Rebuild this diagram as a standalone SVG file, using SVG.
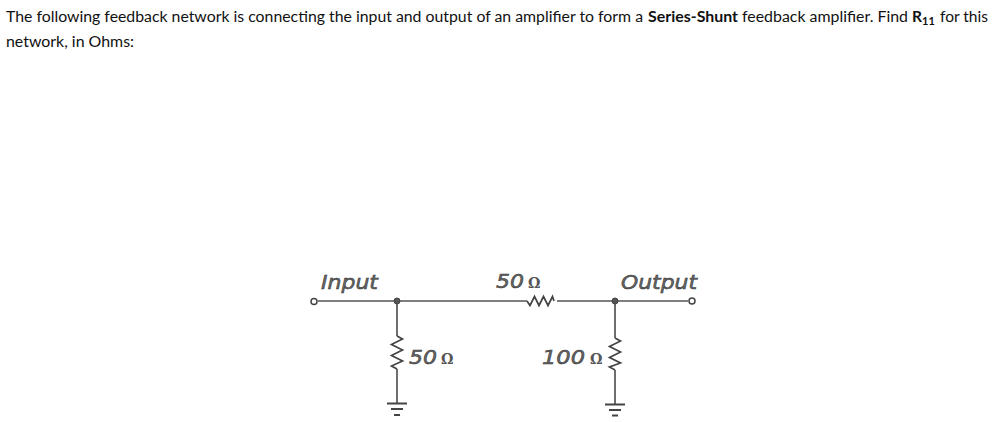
<svg xmlns="http://www.w3.org/2000/svg" width="996" height="422" viewBox="0 0 996 422">
<style>
.q{font-family:Lato,"Open Sans",sans-serif;font-size:15.6px;fill:#111}
.b{font-weight:700}
.h{font-family:"DejaVu Sans",sans-serif;font-style:italic;font-size:20px;fill:#666;stroke:#333;stroke-width:.5}
.o{font-family:"DejaVu Serif",serif;font-size:14px;font-weight:700;fill:#555}
.w{fill:none;stroke:#555;stroke-width:1.7}
.g{fill:none;stroke:#444;stroke-width:2.200}
.r{fill:none;stroke:#444;stroke-width:1.700}
.d{fill:#555;stroke:#444}
.t{fill:#fff;stroke:#444;stroke-width:1.500}
</style>
<rect width="996" height="422" fill="#fff"/>
<g id="question">
<text class="q" x="6" y="22" textLength="637" lengthAdjust="spacingAndGlyphs">The following feedback network is connecting the input and output of an amplifier to form a</text>
<text class="q b" x="648" y="22" textLength="90" lengthAdjust="spacingAndGlyphs">Series-Shunt</text>
<text class="q" x="742" y="22" textLength="166" lengthAdjust="spacingAndGlyphs">feedback amplifier. Find</text>
<text class="q b" x="912" y="22">R<tspan font-size="11" dy="3">11</tspan></text>
<text class="q" x="940" y="22" textLength="48" lengthAdjust="spacingAndGlyphs">for this</text>
<text class="q" x="6" y="47" textLength="128" lengthAdjust="spacingAndGlyphs">network, in Ohms:</text>
</g>
<g id="connectors">
<path class="w" d="M318 301H527M557 301H688"/>
<path class="r" d="M527 301l3 4.500 4.500-9 4.500 9 4.500-9 4.500 9 4.500-9 1.500 4.500"/>
<path class="w" d="M397 301V336M397 369V403"/>
<path class="r" d="M397 336l5.500 3-11 5.500 11 5.500-11 5.500 11 5.500-11 5 5.500 3"/>
<path class="w" d="M615 301V338M615 370V404"/>
<path class="r" d="M615 338l5.500 3-11 5.500 11 5.500-11 5.500 11 5.500-11 4 5.500 3"/>
</g>
<g id="input-terminal"><circle class="t" cx="314" cy="301.500" r="3"/><text class="h" x="321" y="289" textLength="57" lengthAdjust="spacingAndGlyphs">Input</text></g>
<g id="output-terminal"><circle class="t" cx="692" cy="301" r="3"/><text class="h" x="621" y="289" textLength="76" lengthAdjust="spacingAndGlyphs">Output</text></g>
<g id="node-left"><circle class="d" cx="397" cy="301" r="3"/></g>
<g id="node-right"><circle class="d" cx="615" cy="301" r="3"/></g>
<g id="r-series"><text class="h" x="496" y="288" textLength="28" lengthAdjust="spacingAndGlyphs">50</text><text class="o" x="528" y="288">Ω</text></g>
<g id="r-shunt-left"><text class="h" x="409" y="364" textLength="28" lengthAdjust="spacingAndGlyphs">50</text><text class="o" x="441" y="364">Ω</text></g>
<g id="r-shunt-right"><text class="h" x="542" y="364" textLength="43" lengthAdjust="spacingAndGlyphs">100</text><text class="o" x="590" y="364">Ω</text></g>
<g id="ground-left"><path class="g" d="M387 403.500H407M391 409H403M394 415H400"/></g>
<g id="ground-right"><path class="g" d="M605 404.500H625M609 410H621M612 415.500H618"/></g>
</svg>
